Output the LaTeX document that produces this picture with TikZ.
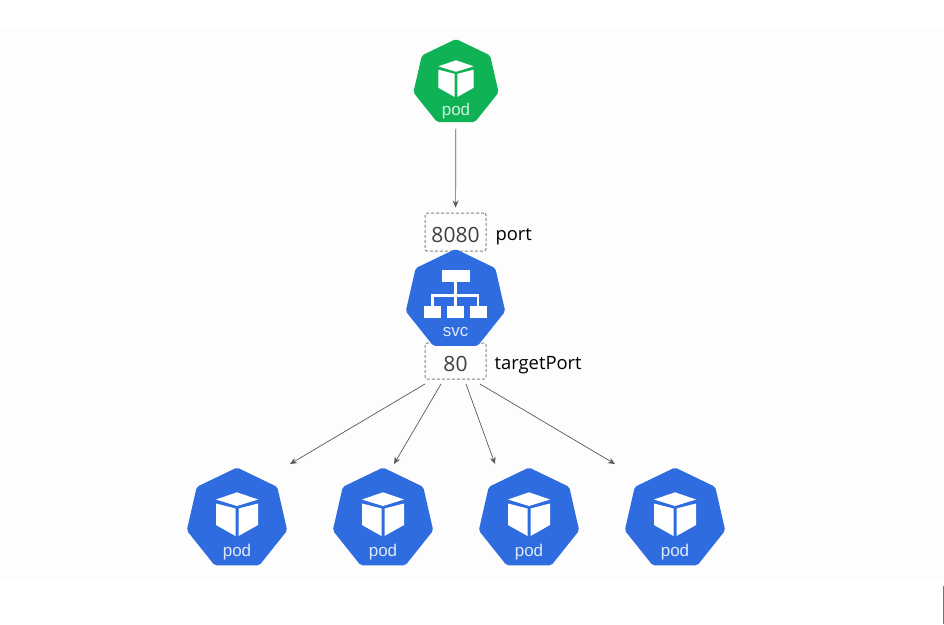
\documentclass[tikz,border=0pt]{standalone}
\usepackage{fontspec}
\setmainfont{Open Sans}
\newfontfamily\iconfont{Liberation Sans}
\usetikzlibrary{arrows.meta, positioning, shapes.geometric}
\definecolor{kubeblue}{HTML}{2F6CE0}
\definecolor{kubegreen}{HTML}{0FB355}
\definecolor{dashgray}{HTML}{858585}
\definecolor{bandgray}{HTML}{FDFDFD}
\tikzset{
    cube/.pic={
        \fill[white] (0,-26.7) -- (21,-19.5) -- (0,-13) -- (-21,-19.5) -- cycle;
        \fill[white] (-21,-15.5) -- (-1.5,-10.5) -- (-1.5,17) -- (-21,6) -- cycle;
        \fill[white] (21,-15.5) -- (1.5,-10.5) -- (1.5,17) -- (21,6) -- cycle;
    },
    tree/.pic={
        \fill[white] (-14,-30) rectangle (14.5,-18);
        \fill[white] (-32,6) rectangle (-14.5,17.7);
        \fill[white] (-9,6) rectangle (8.5,17.7);
        \fill[white] (14,6) rectangle (31,17.7);
        \draw[white,line width=2.2pt] (0,-18) -- (0,6) (-23,6) -- (-23,-4.5) -- (22.5,-4.5) -- (22.5,6);
    }
}
\begin{document}
\begin{tikzpicture}[x=1pt,y=-1pt,>={Stealth[length=7pt,width=6pt]},
        hepta/.style={regular polygon,regular polygon sides=7,inner sep=0pt,
                minimum size=103pt,fill=kubeblue,rounded corners=2pt},
        kind/.style={text=white!85!kubeblue,font=\iconfont\fontsize{17}{17}\selectfont},
        portbox/.style={draw=dashgray,densely dashed,line width=1pt,rounded corners=2pt,
                minimum width=61pt,inner sep=0pt},
        portnum/.style={font=\fontsize{21}{21}\selectfont,text=black!75},
        portname/.style={font=\fontsize{18.4}{18.4}\selectfont,text=black},
        link/.style={->,draw=black!65,line width=.7pt}]
    \useasboundingbox (0,0) rectangle (944,624);
    \fill[bandgray] (0,28) rectangle (944,580);
    \draw[black!55,line width=1pt] (943.5,586) -- (943.5,624);

    % client on top
    \node[hepta,minimum size=87.4pt,fill=kubegreen] (client) at (456,82.7) {};
    \pic[scale=.84] at (456,82.7) {cube};
    \node[kind,text=white!80!kubegreen] (clientname) at (456,111) {pod};

    % service with its two ports
    \node[portbox,minimum height=38pt] (port) at (455.5,232) {};
    \node[portnum] (portnum) at (455.5,235) {8080};
    \node[portbox,minimum height=36pt] (target) at (455.5,361) {};
    \node[portnum] (targetnum) at (455.5,364) {80};
    \node[hepta,minimum size=102pt] (svc) at (455.5,300) {};
    \pic at (455.5,300) {tree};
    \node[kind] (svcname) at (455.5,332) {svc};
    \node[portname,anchor=west] (portlabel) at (492,237) {port};
    \node[portname,anchor=west] (targetlabel) at (491,365) {targetPort};

    \draw[link,shorten <=6pt,shorten >=5pt] (client) -- (port);

    % backends
    \foreach \name/\x/\sx/\ex in {a/237/425/290,b/383/441/394,c/529/466/495,d/675/480/615}{
        \node[hepta] (pod\name) at (\x,519) {};
        \pic at (\x,519) {cube};
        \node[kind] (pod\name name) at (\x,552) {pod};
        \coordinate (from\name) at (\sx,384);
        \coordinate (to\name) at (\ex,464);
        \draw[link] (from\name) -- (to\name);
    }
\end{tikzpicture}
\end{document}
